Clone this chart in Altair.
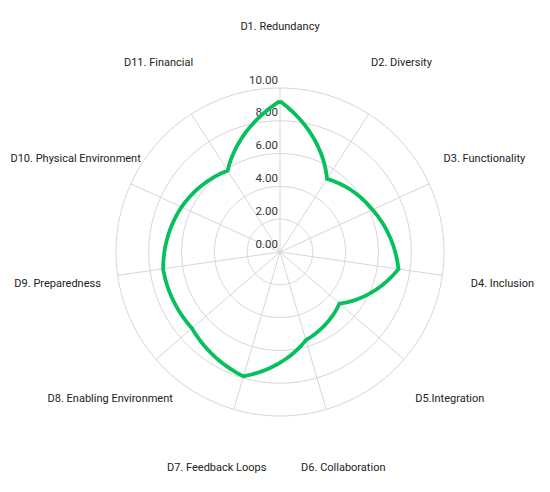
import altair as alt
import pandas as pd

# resilience dimensions, clockwise from the top
dimensions = [
    "D1. Redundancy",
    "D2. Diversity",
    "D3. Functionality",
    "D4. Inclusion",
    "D5.Integration",
    "D6. Collaboration",
    "D7. Feedback Loops",
    "D8. Enabling Environment",
    "D9. Preparedness",
    "D10. Physical Environment",
    "D11. Financial",
]
scores = [9.2, 5.3, 6.2, 7.3, 4.8, 5.6, 7.9, 7.1, 7.2, 6.6, 5.9]
ring_levels = [2, 4, 6, 8, 10]
tick_levels = [0, 2, 4, 6, 8, 10]

N = len(dimensions)
R_MAX = 10
LABEL_R = 13.7
GREEN = "#06c05c"
GRID = "#d6d6d6"
FONT = "Roboto"

sx = alt.Scale(domain=[-R_MAX, R_MAX], nice=False, zero=False)
sy = alt.Scale(domain=[-R_MAX, R_MAX], nice=False, zero=False)
ANGLE = f"datum.i * 2 * PI / {N}"

dims = pd.DataFrame({"dim": dimensions, "i": range(N)})
profile_df = pd.DataFrame({
    "dim": dimensions,
    "i": range(N),
    "score": scores,
    "next": scores[1:] + scores[:1],
})

# concentric grid rings
rings = (
    alt.Chart(pd.DataFrame({"level": ring_levels}))
    .transform_calculate(deg="sequence(0, 362, 2)")
    .transform_flatten(["deg"])
    .transform_calculate(
        x="datum.level * sin(datum.deg * PI / 180)",
        y="datum.level * cos(datum.deg * PI / 180)",
    )
    .mark_line(color=GRID, strokeWidth=1)
    .encode(
        x=alt.X("x:Q", scale=sx, axis=None),
        y=alt.Y("y:Q", scale=sy, axis=None),
        detail="level:N",
        order="deg:Q",
    )
)

# spokes, one per dimension
spokes = (
    alt.Chart(dims)
    .transform_calculate(
        x0="0",
        y0="0",
        x1=f"{R_MAX} * sin({ANGLE})",
        y1=f"{R_MAX} * cos({ANGLE})",
    )
    .mark_rule(color=GRID, strokeWidth=1)
    .encode(
        x=alt.X("x0:Q", scale=sx, axis=None),
        y=alt.Y("y0:Q", scale=sy, axis=None),
        x2="x1:Q",
        y2="y1:Q",
    )
)

ticks = (
    alt.Chart(pd.DataFrame({"level": tick_levels}))
    .transform_calculate(x0="0")
    .mark_text(align="right", baseline="middle", dx=-2, dy=-7.5,
               font=FONT, fontSize=11.5, color="#333333")
    .encode(
        x=alt.X("x0:Q", scale=sx, axis=None),
        y=alt.Y("level:Q", scale=sy, axis=None),
        text=alt.Text("level:Q", format=".2f"),
    )
)

# score line, radius changing linearly with angle between spokes
profile = (
    alt.Chart(profile_df)
    .transform_calculate(t="sequence(0, 1.0001, 0.05)")
    .transform_flatten(["t"])
    .transform_calculate(
        a=f"(datum.i + datum.t) * 2 * PI / {N}",
        r="datum.score + (datum.next - datum.score) * datum.t",
        o="datum.i + datum.t",
    )
    .transform_calculate(
        x="datum.r * sin(datum.a)",
        y="datum.r * cos(datum.a)",
    )
    .mark_line(color=GREEN, strokeWidth=3.8)
    .encode(
        x=alt.X("x:Q", scale=sx, axis=None),
        y=alt.Y("y:Q", scale=sy, axis=None),
        order="o:Q",
    )
)

labels = (
    alt.Chart(dims)
    .transform_calculate(
        x=f"{LABEL_R} * sin({ANGLE})",
        y=f"{LABEL_R} * cos({ANGLE})",
    )
    .mark_text(align="center", baseline="middle", font=FONT,
               fontSize=11, color="#222222")
    .encode(
        x=alt.X("x:Q", scale=sx, axis=None),
        y=alt.Y("y:Q", scale=sy, axis=None),
        text="dim:N",
    )
)

chart = (
    alt.layer(rings, spokes, ticks, profile, labels)
    .properties(
        width=328,
        height=328,
        padding={"left": 108, "top": 80, "right": 98, "bottom": 68},
        autosize=alt.AutoSizeParams(type="none"),
        background="white",
    )
    .configure_view(stroke=None)
)

chart.save("out.html", embed_options={"renderer": "svg", "actions": False})
